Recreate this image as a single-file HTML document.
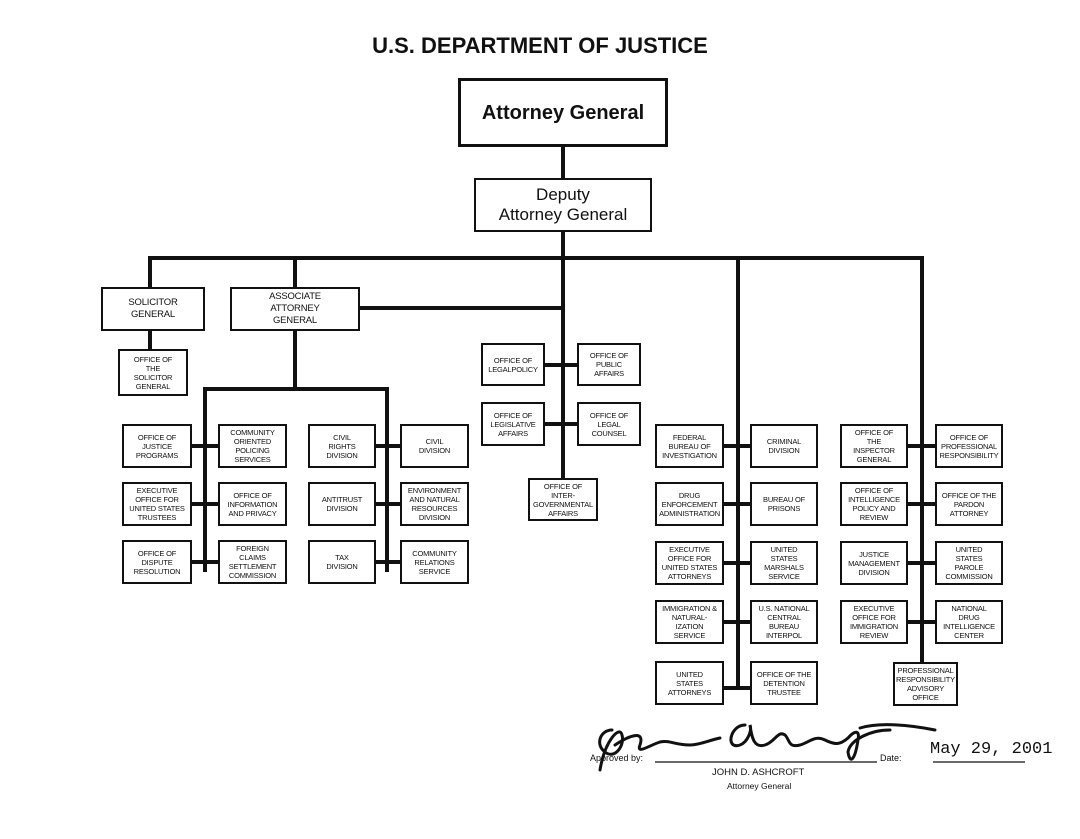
<!DOCTYPE html>
<html><head><meta charset="utf-8"><style>
body{margin:0;width:1080px;height:839px;background:#fff;position:relative;overflow:hidden;font-family:"Liberation Sans",Arial,sans-serif;color:#111}
.b{position:absolute;box-sizing:border-box;border:2.5px solid #111;background:#fff;display:flex;align-items:center;justify-content:center;text-align:center;font-size:7.5px;line-height:9px;letter-spacing:-0.2px}
.t{position:absolute;white-space:nowrap}
svg{position:absolute;left:0;top:0}
</style></head><body>
<svg width="1080" height="839">
<g stroke="#111" stroke-width="4" fill="none">
<line x1="563" y1="147" x2="563" y2="480"/>
<line x1="148" y1="258" x2="924" y2="258"/>
<line x1="150" y1="258" x2="150" y2="290"/>
<line x1="295" y1="258" x2="295" y2="290"/>
<line x1="738" y1="258" x2="738" y2="690"/>
<line x1="922" y1="258" x2="922" y2="665"/>
<line x1="360" y1="308" x2="563" y2="308"/>
<line x1="150" y1="331" x2="150" y2="350"/>
<line x1="295" y1="331" x2="295" y2="389"/>
<line x1="203" y1="389" x2="389" y2="389"/>
<line x1="205" y1="387" x2="205" y2="572"/>
<line x1="387" y1="387" x2="387" y2="572"/>
<line x1="192" y1="446" x2="218" y2="446"/><line x1="192" y1="504" x2="218" y2="504"/><line x1="192" y1="562" x2="218" y2="562"/>
<line x1="376" y1="446" x2="400" y2="446"/><line x1="376" y1="504" x2="400" y2="504"/><line x1="376" y1="562" x2="400" y2="562"/>
<line x1="545" y1="365" x2="577" y2="365"/><line x1="545" y1="424" x2="577" y2="424"/>
<line x1="724" y1="446" x2="750" y2="446"/><line x1="724" y1="504" x2="750" y2="504"/><line x1="724" y1="563" x2="750" y2="563"/><line x1="724" y1="622" x2="750" y2="622"/><line x1="724" y1="688" x2="750" y2="688"/>
<line x1="908" y1="446" x2="935" y2="446"/><line x1="908" y1="504" x2="935" y2="504"/><line x1="908" y1="563" x2="935" y2="563"/><line x1="908" y1="622" x2="935" y2="622"/>
</g>
<g stroke="#111" stroke-width="1.2">
<line x1="655" y1="762" x2="877" y2="762"/>
<line x1="933" y1="762" x2="1025" y2="762"/>
</g>
<g stroke="#111" stroke-width="3" fill="none" stroke-linecap="round">
<path d="M612 730 C600 730 595 745 605 752 C615 760 625 745 622 735 C620 725 605 740 600 770"/>
<path d="M615 745 C630 735 645 730 640 745 C636 755 650 745 660 742 C670 740 675 745 690 745 C700 745 710 740 720 738"/>
<path d="M745 725 C730 725 725 750 740 745 C748 742 752 730 750 725 C752 740 755 748 765 745 C775 742 778 730 785 735 C790 740 788 748 800 745 C810 742 815 735 825 740 C835 745 840 745 848 738 C855 730 860 730 858 740 C855 760 850 765 848 752 C850 740 870 730 890 730 M860 728 C880 722 910 725 935 730"/>
</g>
</svg>
<div class="t" style="left:0;width:1080px;text-align:center;top:33px;font-size:22px;font-weight:bold">U.S. DEPARTMENT OF JUSTICE</div>
<div class="b" style="left:458px;top:78px;width:210px;height:69px;font-size:20px;line-height:24px;font-weight:bold;border-width:3px;letter-spacing:0">Attorney General</div>
<div class="b" style="left:474px;top:178px;width:178px;height:54px;font-size:17px;line-height:20px;letter-spacing:0">Deputy<br>Attorney General</div>
<div class="b" style="left:101px;top:287px;width:104px;height:44px;font-size:9.5px;line-height:12px">SOLICITOR<br>GENERAL</div>
<div class="b" style="left:230px;top:287px;width:130px;height:44px;font-size:9.5px;line-height:12px">ASSOCIATE<br>ATTORNEY<br>GENERAL</div>
<div class="b" style="left:118px;top:349px;width:70px;height:47px">OFFICE OF<br>THE<br>SOLICITOR<br>GENERAL</div>

<div class="b" style="left:122px;top:424px;width:70px;height:44px">OFFICE OF<br>JUSTICE<br>PROGRAMS</div>
<div class="b" style="left:218px;top:424px;width:69px;height:44px">COMMUNITY<br>ORIENTED<br>POLICING<br>SERVICES</div>
<div class="b" style="left:122px;top:482px;width:70px;height:44px">EXECUTIVE<br>OFFICE FOR<br>UNITED STATES<br>TRUSTEES</div>
<div class="b" style="left:218px;top:482px;width:69px;height:44px">OFFICE OF<br>INFORMATION<br>AND PRIVACY</div>
<div class="b" style="left:122px;top:540px;width:70px;height:44px">OFFICE OF<br>DISPUTE<br>RESOLUTION</div>
<div class="b" style="left:218px;top:540px;width:69px;height:44px">FOREIGN<br>CLAIMS<br>SETTLEMENT<br>COMMISSION</div>

<div class="b" style="left:308px;top:424px;width:68px;height:44px">CIVIL<br>RIGHTS<br>DIVISION</div>
<div class="b" style="left:400px;top:424px;width:69px;height:44px">CIVIL<br>DIVISION</div>
<div class="b" style="left:308px;top:482px;width:68px;height:44px">ANTITRUST<br>DIVISION</div>
<div class="b" style="left:400px;top:482px;width:69px;height:44px">ENVIRONMENT<br>AND NATURAL<br>RESOURCES<br>DIVISION</div>
<div class="b" style="left:308px;top:540px;width:68px;height:44px">TAX<br>DIVISION</div>
<div class="b" style="left:400px;top:540px;width:69px;height:44px">COMMUNITY<br>RELATIONS<br>SERVICE</div>

<div class="b" style="left:481px;top:343px;width:64px;height:43px">OFFICE OF<br>LEGALPOLICY</div>
<div class="b" style="left:577px;top:343px;width:64px;height:43px">OFFICE OF<br>PUBLIC<br>AFFAIRS</div>
<div class="b" style="left:481px;top:402px;width:64px;height:44px">OFFICE OF<br>LEGISLATIVE<br>AFFAIRS</div>
<div class="b" style="left:577px;top:402px;width:64px;height:44px">OFFICE OF<br>LEGAL<br>COUNSEL</div>
<div class="b" style="left:528px;top:478px;width:70px;height:43px">OFFICE OF<br>INTER-<br>GOVERNMENTAL<br>AFFAIRS</div>

<div class="b" style="left:655px;top:424px;width:69px;height:44px">FEDERAL<br>BUREAU OF<br>INVESTIGATION</div>
<div class="b" style="left:750px;top:424px;width:68px;height:44px">CRIMINAL<br>DIVISION</div>
<div class="b" style="left:655px;top:482px;width:69px;height:44px">DRUG<br>ENFORCEMENT<br>ADMINISTRATION</div>
<div class="b" style="left:750px;top:482px;width:68px;height:44px">BUREAU OF<br>PRISONS</div>
<div class="b" style="left:655px;top:541px;width:69px;height:44px">EXECUTIVE<br>OFFICE FOR<br>UNITED STATES<br>ATTORNEYS</div>
<div class="b" style="left:750px;top:541px;width:68px;height:44px">UNITED<br>STATES<br>MARSHALS<br>SERVICE</div>
<div class="b" style="left:655px;top:600px;width:69px;height:44px">IMMIGRATION &amp;<br>NATURAL-<br>IZATION<br>SERVICE</div>
<div class="b" style="left:750px;top:600px;width:68px;height:44px">U.S. NATIONAL<br>CENTRAL<br>BUREAU<br>INTERPOL</div>
<div class="b" style="left:655px;top:661px;width:69px;height:44px">UNITED<br>STATES<br>ATTORNEYS</div>
<div class="b" style="left:750px;top:661px;width:68px;height:44px">OFFICE OF THE<br>DETENTION<br>TRUSTEE</div>

<div class="b" style="left:840px;top:424px;width:68px;height:44px">OFFICE OF<br>THE<br>INSPECTOR<br>GENERAL</div>
<div class="b" style="left:935px;top:424px;width:68px;height:44px">OFFICE OF<br>PROFESSIONAL<br>RESPONSIBILITY</div>
<div class="b" style="left:840px;top:482px;width:68px;height:44px">OFFICE OF<br>INTELLIGENCE<br>POLICY AND<br>REVIEW</div>
<div class="b" style="left:935px;top:482px;width:68px;height:44px">OFFICE OF THE<br>PARDON<br>ATTORNEY</div>
<div class="b" style="left:840px;top:541px;width:68px;height:44px">JUSTICE<br>MANAGEMENT<br>DIVISION</div>
<div class="b" style="left:935px;top:541px;width:68px;height:44px">UNITED<br>STATES<br>PAROLE<br>COMMISSION</div>
<div class="b" style="left:840px;top:600px;width:68px;height:44px">EXECUTIVE<br>OFFICE FOR<br>IMMIGRATION<br>REVIEW</div>
<div class="b" style="left:935px;top:600px;width:68px;height:44px">NATIONAL<br>DRUG<br>INTELLIGENCE<br>CENTER</div>
<div class="b" style="left:893px;top:662px;width:65px;height:44px">PROFESSIONAL<br>RESPONSIBILITY<br>ADVISORY<br>OFFICE</div>

<div class="t" style="left:590px;top:753px;font-size:9px">Approved by:</div>
<div class="t" style="left:880px;top:753px;font-size:9px">Date:</div>
<div class="t" style="left:930px;top:740px;font-size:17px;font-family:'Liberation Mono',monospace">May 29, 2001</div>
<div class="t" style="left:712px;top:767px;font-size:9.5px">JOHN D. ASHCROFT</div>
<div class="t" style="left:727px;top:781px;font-size:8.5px">Attorney General</div>
</body></html>
